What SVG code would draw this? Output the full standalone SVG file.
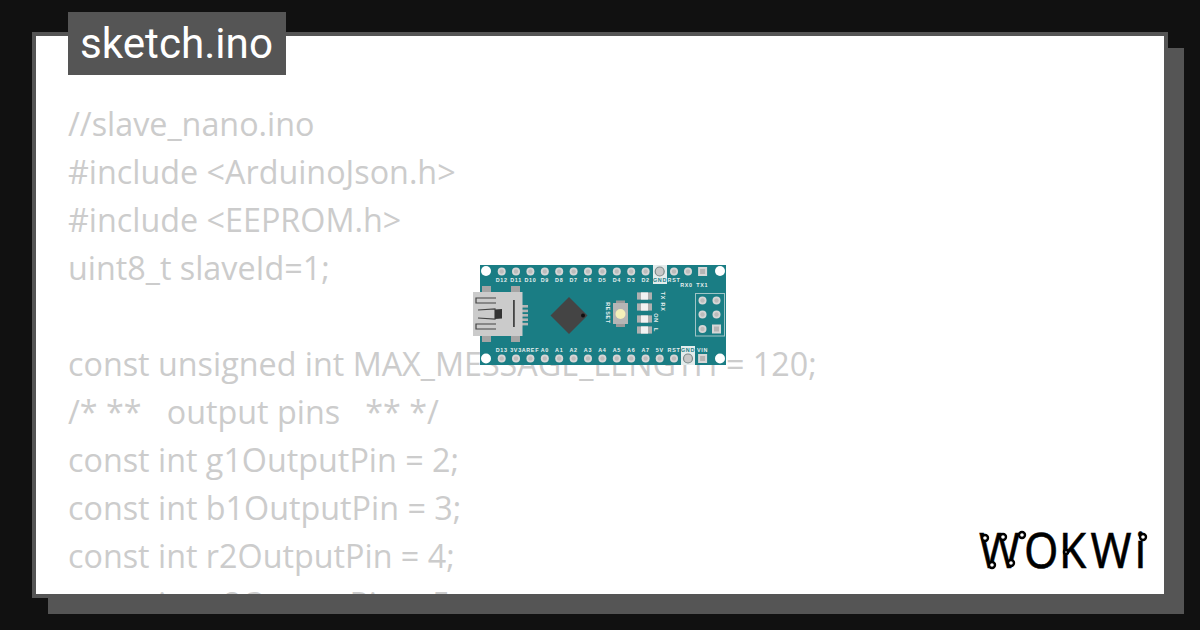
<svg xmlns="http://www.w3.org/2000/svg" width="1200" height="630" viewBox="0 0 1200 630">
<defs>
<clipPath id="paper"><rect x="36" y="36" width="1128" height="558"/></clipPath>
<g id="pin"><circle r="4" fill="#d6d6d6"/><circle r="2.200" fill="#bcbcbc"/></g>
<g id="sq"><rect x="-4.500" y="-4.500" width="9" height="9" fill="#d6d6d6"/><rect x="-2.500" y="-2.500" width="5" height="5" fill="#b4b4b4"/></g>
<g id="led"><rect x="-7.500" y="-3.600" width="15" height="7.200" fill="#b0b0b0"/><rect x="-3.500" y="-3.600" width="7" height="7.200" fill="#f2f2f2"/></g>
</defs>
<style>
.code{font-family:"Open Sans",sans-serif;font-size:32.300px;fill:#ccc}
.l{font-family:"Liberation Sans",sans-serif;font-size:5.400px;font-weight:700;letter-spacing:.7px;fill:#e8f0f0;text-anchor:middle}
</style>
<rect width="1200" height="630" fill="#111"/>
<rect x="48" y="48" width="1136" height="566" fill="#555"/>
<rect x="34" y="34" width="1132" height="562" fill="#fff" stroke="#555" stroke-width="4"/>
<g clip-path="url(#paper)">
<text class="code" x="68" y="136">//slave_nano.ino</text>
<text class="code" x="68" y="184">#include &lt;ArduinoJson.h&gt;</text>
<text class="code" x="68" y="232">#include &lt;EEPROM.h&gt;</text>
<text class="code" x="68" y="280">uint8_t slaveId=1;</text>
<text class="code" x="68" y="376">const unsigned int MAX_MESSAGE_LENGTH = 120;</text>
<text class="code" x="68" y="424" xml:space="preserve">/* **   output pins   ** */</text>
<text class="code" x="68" y="472">const int g1OutputPin = 2;</text>
<text class="code" x="68" y="520">const int b1OutputPin = 3;</text>
<text class="code" x="68" y="568">const int r2OutputPin = 4;</text>
<text class="code" x="68" y="616">const int g2OutputPin = 5;</text>
</g>
<g id="title"><rect x="68" y="12" width="218" height="63" fill="#555"/>
<text x="80" y="58" font-family="Roboto,sans-serif" font-size="42.200" fill="#fff">sketch.ino</text></g>
<g id="nano">
<rect x="480" y="265" width="246" height="100" fill="#1a7d84"/>
<rect x="653" y="265" width="14" height="19" fill="#e4ecec"/>
<rect x="681" y="346" width="14" height="19" fill="#e4ecec"/>
<g fill="#fff"><circle cx="486" cy="271" r="5"/><circle cx="720" cy="271" r="5"/><circle cx="486" cy="358.500" r="5"/><circle cx="720" cy="358.500" r="5"/></g>
<g>
<use href="#pin" x="501.700" y="271.500"/><use href="#pin" x="516" y="271.500"/><use href="#pin" x="530.400" y="271.500"/><use href="#pin" x="544.800" y="271.500"/><use href="#pin" x="559.200" y="271.500"/><use href="#pin" x="573.600" y="271.500"/><use href="#pin" x="588" y="271.500"/><use href="#pin" x="602.400" y="271.500"/><use href="#pin" x="616.800" y="271.500"/><use href="#pin" x="631.200" y="271.500"/><use href="#pin" x="645.600" y="271.500"/><circle cx="659.700" cy="271.500" r="4.500" fill="#c8c8c8" stroke="#7d8a8a" stroke-width="1.200"/><use href="#pin" x="674" y="271.500"/><use href="#pin" x="688" y="271.500"/><use href="#sq" x="702.600" y="271.500"/>
<use href="#pin" x="501.700" y="358.500"/><use href="#pin" x="516" y="358.500"/><use href="#pin" x="530.400" y="358.500"/><use href="#pin" x="544.800" y="358.500"/><use href="#pin" x="559.200" y="358.500"/><use href="#pin" x="573.600" y="358.500"/><use href="#pin" x="588" y="358.500"/><use href="#pin" x="602.400" y="358.500"/><use href="#pin" x="616.800" y="358.500"/><use href="#pin" x="631.200" y="358.500"/><use href="#pin" x="645.600" y="358.500"/><use href="#pin" x="659.700" y="358.500"/><use href="#pin" x="674" y="358.500"/><circle cx="688" cy="358.500" r="4.500" fill="#c8c8c8" stroke="#7d8a8a" stroke-width="1.200"/><use href="#sq" x="702.600" y="358.500"/>
</g>
<g class="labels">
<text class="l" x="501.700" y="282">D12</text><text class="l" x="516" y="282">D11</text><text class="l" x="530.400" y="282">D10</text><text class="l" x="544.800" y="282">D9</text><text class="l" x="559.200" y="282">D8</text><text class="l" x="573.600" y="282">D7</text><text class="l" x="588" y="282">D6</text><text class="l" x="602.400" y="282">D5</text><text class="l" x="616.800" y="282">D4</text><text class="l" x="631.200" y="282">D3</text><text class="l" x="645.600" y="282">D2</text><text class="l" x="660" y="282" style="fill:#1a7d84">GND</text><text class="l" x="674" y="282">RST</text><text class="l" x="686.500" y="287">RX0</text><text class="l" x="702.300" y="287">TX1</text>
<text class="l" x="501.700" y="352">D13</text><text class="l" x="516" y="352">3V3</text><text class="l" x="530.400" y="352">AREF</text><text class="l" x="544.800" y="352">A0</text><text class="l" x="559.200" y="352">A1</text><text class="l" x="573.600" y="352">A2</text><text class="l" x="588" y="352">A3</text><text class="l" x="602.400" y="352">A4</text><text class="l" x="616.800" y="352">A5</text><text class="l" x="631.200" y="352">A6</text><text class="l" x="645.600" y="352">A7</text><text class="l" x="659.700" y="352">5V</text><text class="l" x="674" y="352">RST</text><text class="l" x="688" y="352" style="fill:#1a7d84">GND</text><text class="l" x="702.600" y="352">VIN</text>
<text class="l" transform="translate(606 313) rotate(90)">RESET</text>
<text class="l" transform="translate(661 296) rotate(90)">TX</text>
<text class="l" transform="translate(661 307) rotate(90)">RX</text>
<text class="l" transform="translate(654 318) rotate(90)">ON</text>
<text class="l" transform="translate(654 330) rotate(90)">L</text>
</g>
<g id="usb">
<g fill="#a5a5a5"><rect x="482" y="286" width="9" height="7"/><rect x="511" y="286" width="9" height="7"/><rect x="482" y="335" width="9" height="7"/><rect x="511" y="335" width="9" height="7"/></g>
<g fill="#b5b5b5"><rect x="522" y="305" width="6" height="2.600"/><rect x="522" y="309.600" width="6" height="2.600"/><rect x="522" y="314" width="6" height="2.600"/><rect x="522" y="318.400" width="6" height="2.600"/><rect x="522" y="322.800" width="6" height="2.600"/></g>
<rect x="473" y="292" width="49.500" height="44" fill="#cbcbcb"/>
<path d="M496 298H476V303H496M496 324H476V329H496" fill="none" stroke="#444" stroke-width="1.200"/>
<path d="M478 310L495 309V319L478 318" fill="none" stroke="#444" stroke-width="1.200"/>
<path d="M495 309.500L502 309V318.500L495 319Z" fill="#333"/>
<rect x="513" y="300" width="1.800" height="27" fill="#444"/>
</g>
<path d="M569 297L587.500 315.500 569 334 550.500 315.500Z" fill="#444"/>
<circle cx="583" cy="315.500" r="2" fill="#111"/>
<rect x="616" y="300.500" width="9" height="3" fill="#999"/><rect x="616" y="324" width="9" height="3" fill="#999"/>
<rect x="613" y="303" width="15" height="21" fill="#b5b5b5"/>
<circle cx="620.500" cy="314" r="5" fill="#f3efb9"/>
<use href="#led" x="644.500" y="296"/><use href="#led" x="644.500" y="307"/><use href="#led" x="644.500" y="319"/><use href="#led" x="644.500" y="330"/>
<rect x="695.500" y="293.500" width="29" height="42.500" fill="none" stroke="#9fc4c6" stroke-width="1"/>
<use href="#pin" x="702.500" y="300.500"/><use href="#pin" x="716.500" y="300.500"/><use href="#pin" x="702.500" y="314.500"/><use href="#pin" x="716.500" y="314.500"/><use href="#pin" x="702.500" y="329"/><use href="#sq" x="716.500" y="329"/>
</g>
<g id="wokwi">
<text transform="translate(979 568) scale(.9 1)" font-family="'Noto Sans',sans-serif" font-size="49" fill="#000" stroke="#000" stroke-width=".5" x="0 50 89 124 173">WOKWi</text>
<g fill="#fff" stroke="#000" stroke-width="2.400"><circle cx="985" cy="538" r="3"/><circle cx="1003" cy="537" r="3"/><circle cx="1022" cy="535" r="3"/><circle cx="992" cy="565" r="3"/><circle cx="1011" cy="563" r="3"/><circle cx="1066" cy="552" r="2"/><circle cx="1143" cy="537" r="3"/></g>
</g>
</svg>
